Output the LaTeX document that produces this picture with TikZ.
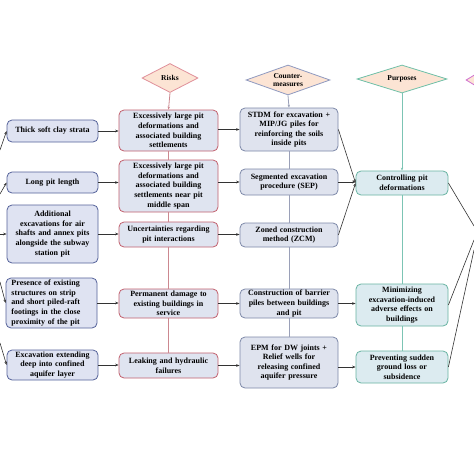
\documentclass[tikz,border=0pt]{standalone}
\usepackage{fontspec}
\setmainfont{Liberation Serif}
\usetikzlibrary{shapes.geometric,arrows.meta}
\definecolor{lfill}{HTML}{DFE3F2}
\definecolor{lborder}{HTML}{55629A}
\definecolor{rfill}{HTML}{DFE4F0}
\definecolor{rborder}{HTML}{C2606E}
\definecolor{cfill}{HTML}{DFE3EE}
\definecolor{cborder}{HTML}{7D88A8}
\definecolor{pfill}{HTML}{DCEBF0}
\definecolor{pborder}{HTML}{68B4A2}
\definecolor{dfill}{HTML}{FCE4D4}
\definecolor{rline}{HTML}{CC8890}
\definecolor{cline}{HTML}{9AA0B8}
\definecolor{pline}{HTML}{7CC4B4}
\definecolor{rdia}{HTML}{E0909A}
\definecolor{cdia}{HTML}{8F9AC0}
\definecolor{pdia}{HTML}{70C0A8}
\definecolor{mdia}{HTML}{D070D0}
\definecolor{arr}{HTML}{333333}
\newcommand\boxfont{\fontsize{8}{9.6}\selectfont\bfseries}
\newcommand\jline[1]{\makebox[80pt][s]{#1}}
\begin{document}
\begin{tikzpicture}[x=1pt,y=-1pt,
  box/.style={rectangle, rounded corners=5pt, line width=0.8pt, inner xsep=2pt, inner ysep=0pt, align=center, font=\boxfont},
  lbox/.style={box, draw=lborder, fill=lfill, minimum width=91pt, text width=87pt},
  rbox/.style={box, draw=rborder, fill=rfill, minimum width=99pt, text width=95pt},
  cbox/.style={box, draw=cborder, fill=cfill, minimum width=98pt, text width=94pt},
  pbox/.style={box, draw=pborder, fill=pfill, minimum width=92pt, text width=88pt},
  dia/.style={diamond, inner sep=0pt, line width=0.8pt, fill=dfill},
  dtext/.style={inner sep=0pt, align=center, font=\fontsize{7.5}{8.6}\selectfont\bfseries},
  conn/.style={draw=arr, line width=0.6pt, -{Stealth[length=3.5pt,width=2.6pt]}},
  plainconn/.style={draw=arr, line width=0.6pt},
  vline/.style={line width=0.8pt}
]
\useasboundingbox (0,0) rectangle (474,474);
\clip (0,0) rectangle (474,474);
\fill[white] (0,0) rectangle (474,474);

% diamonds
\node[dia, draw=rdia, minimum width=56pt, minimum height=29pt] (Rd) at (170,78) {};
\node[dtext] (RdT) at (Rd.center) {Risks};
\node[dia, draw=cdia, minimum width=84pt, minimum height=30pt] (Cd) at (288,80) {};
\node[dtext] (CdT) at (Cd.center) {Counter-\\measures};
\node[dia, draw=pdia, minimum width=90pt, minimum height=28pt] (Pd) at (402,79) {};
\node[dtext] (PdT) at (Pd.center) {Purposes};
\node[dia, draw=mdia, minimum width=46pt, minimum height=28pt] (Md) at (489,80) {};

% left column
\node[lbox, minimum height=22pt] (L1) at (52.5,131) {Thick soft clay strata};
\node[lbox, minimum height=21pt] (L2) at (52.5,182.5) {Long pit length};
\node[lbox, minimum height=58pt] (L3) at (52.5,234) {Additional\\excavations for air\\shafts and annex pits\\alongside the subway\\station pit};
\node[lbox, minimum height=50pt, text width=80pt, inner xsep=5.5pt, align=left] (L4) at (51.5,303) {\jline{Presence of existing}\\\jline{structures on strip}\\\jline{and short piled-raft}\\\jline{footings in the close}\\proximity of the pit};
\node[lbox, minimum height=30pt] (L5) at (52.5,365) {Excavation extending\\deep into confined\\aquifer layer};

% risks column
\node[rbox, minimum height=41pt] (R1) at (168.5,130.5) {Excessively large pit\\deformations and\\associated building\\settlements};
\node[rbox, minimum height=52pt] (R2) at (168.5,186) {Excessively large pit\\deformations and\\associated building\\settlements near pit\\middle span};
\node[rbox, minimum height=25pt] (R3) at (168.5,234.5) {Uncertainties regarding\\pit interactions};
\node[rbox, minimum height=29pt] (R4) at (168.5,303.5) {Permanent damage to\\existing buildings in\\service};
\node[rbox, minimum height=25pt] (R5) at (168.5,365.5) {Leaking and hydraulic\\failures};

% counter-measures column
\node[cbox, minimum height=43pt] (C1) at (289,129.5) {STDM for excavation +\\MIP/JG piles for\\reinforcing the soils\\inside pits};
\node[cbox, minimum height=26pt] (C2) at (289,182) {Segmented excavation\\procedure (SEP)};
\node[cbox, minimum height=24pt] (C3) at (289,235) {Zoned construction\\method (ZCM)};
\node[cbox, minimum height=29pt] (C4) at (289,303.5) {Construction of barrier\\piles between buildings\\and pit};
\node[cbox, minimum height=51pt] (C5) at (289,362.5) {EPM for DW joints +\\Relief wells for\\releasing confined\\aquifer pressure};

% purposes column
\node[pbox, minimum height=24pt] (P1) at (402,183) {Controlling pit\\deformations};
\node[pbox, minimum height=42pt] (P2) at (402,305) {Minimizing\\excavation-induced\\adverse effects on\\buildings};
\node[pbox, minimum height=32pt] (P3) at (402,367) {Preventing sudden\\ground loss or\\subsidence};

% vertical column lines
\draw[vline, draw=rline, -{Stealth[length=3pt,width=2.4pt]}] (Rd.south) -- (R1.north);
\draw[vline, draw=rline] (R1.south) -- (R2.north);
\draw[vline, draw=rline] (R2.south) -- (R3.north);
\draw[vline, draw=rline] (R3.south) -- (R4.north);
\draw[vline, draw=rline] (R4.south) -- (R5.north);
\draw[vline, draw=cline, -{Stealth[length=3pt,width=2.4pt]}] (Cd.south) -- (C1.north);
\draw[vline, draw=cline] (C1.south) -- (C2.north);
\draw[vline, draw=cline] (C2.south) -- (C3.north);
\draw[vline, draw=cline] (C3.south) -- (C4.north);
\draw[vline, draw=cline] (C4.south) -- (C5.north);
\draw[vline, draw=pline, -{Stealth[length=3pt,width=2.4pt]}] (Pd.south) -- (P1.north);
\draw[vline, draw=pline] (P1.south) -- (P2.north);
\draw[vline, draw=pline] (P2.south) -- (P3.north);

% left free ends
\coordinate (a1) at (0,150);
\coordinate (a2) at (0,194);
\coordinate (a3) at (0,234);
\coordinate (a4) at (0,282);
\coordinate (a5) at (0,343);
\draw[conn] (a1) -- (L1.west);
\draw[conn] (a2) -- (L2.west);
\draw[conn] (a3) -- (L3.west);
\draw[conn] (a4) -- (L4.west);
\draw[conn] (a5) -- (L5.west);

% left -> risks
\draw[conn] (L1.east) -- (L1.east -| R1.west);
\draw[conn] (L2.east) -- (L2.east -| R2.west);
\draw[conn] (L3.east) -- (L3.east -| R3.west);
\draw[conn] (L4.east) -- (L4.east -| R4.west);
\draw[conn] (L5.east) -- (L5.east -| R5.west);

% risks -> counter-measures
\draw[conn] (R1.east |- C1.west) -- (C1.west);
\draw[conn] (R2.east |- C2.west) -- (C2.west);
\draw[conn] (R3.east) -- (R3.east -| C3.west);
\draw[conn] (R4.east) -- (R4.east -| C4.west);
\draw[conn] (R5.east) -- (R5.east -| C5.west);

% counter-measures -> purposes
\draw[conn] (C1.east) -- (P1.west);
\draw[conn] (C2.east) -- (C2.east -| P1.west);
\draw[conn] (C3.east) -- (P1.west);
\draw[conn] (C4.east) -- (C4.east -| P2.west);
\draw[conn] (C5.east |- P3.west) -- (P3.west);

% right free ends
\coordinate (b1) at (474,226);
\coordinate (b2) at (474,240);
\coordinate (b3) at (474,250);
\draw[plainconn] (P1.east) -- (b1);
\draw[plainconn] (P2.east) -- (b2);
\draw[plainconn] (P3.east) -- (b3);
\end{tikzpicture}
\end{document}
